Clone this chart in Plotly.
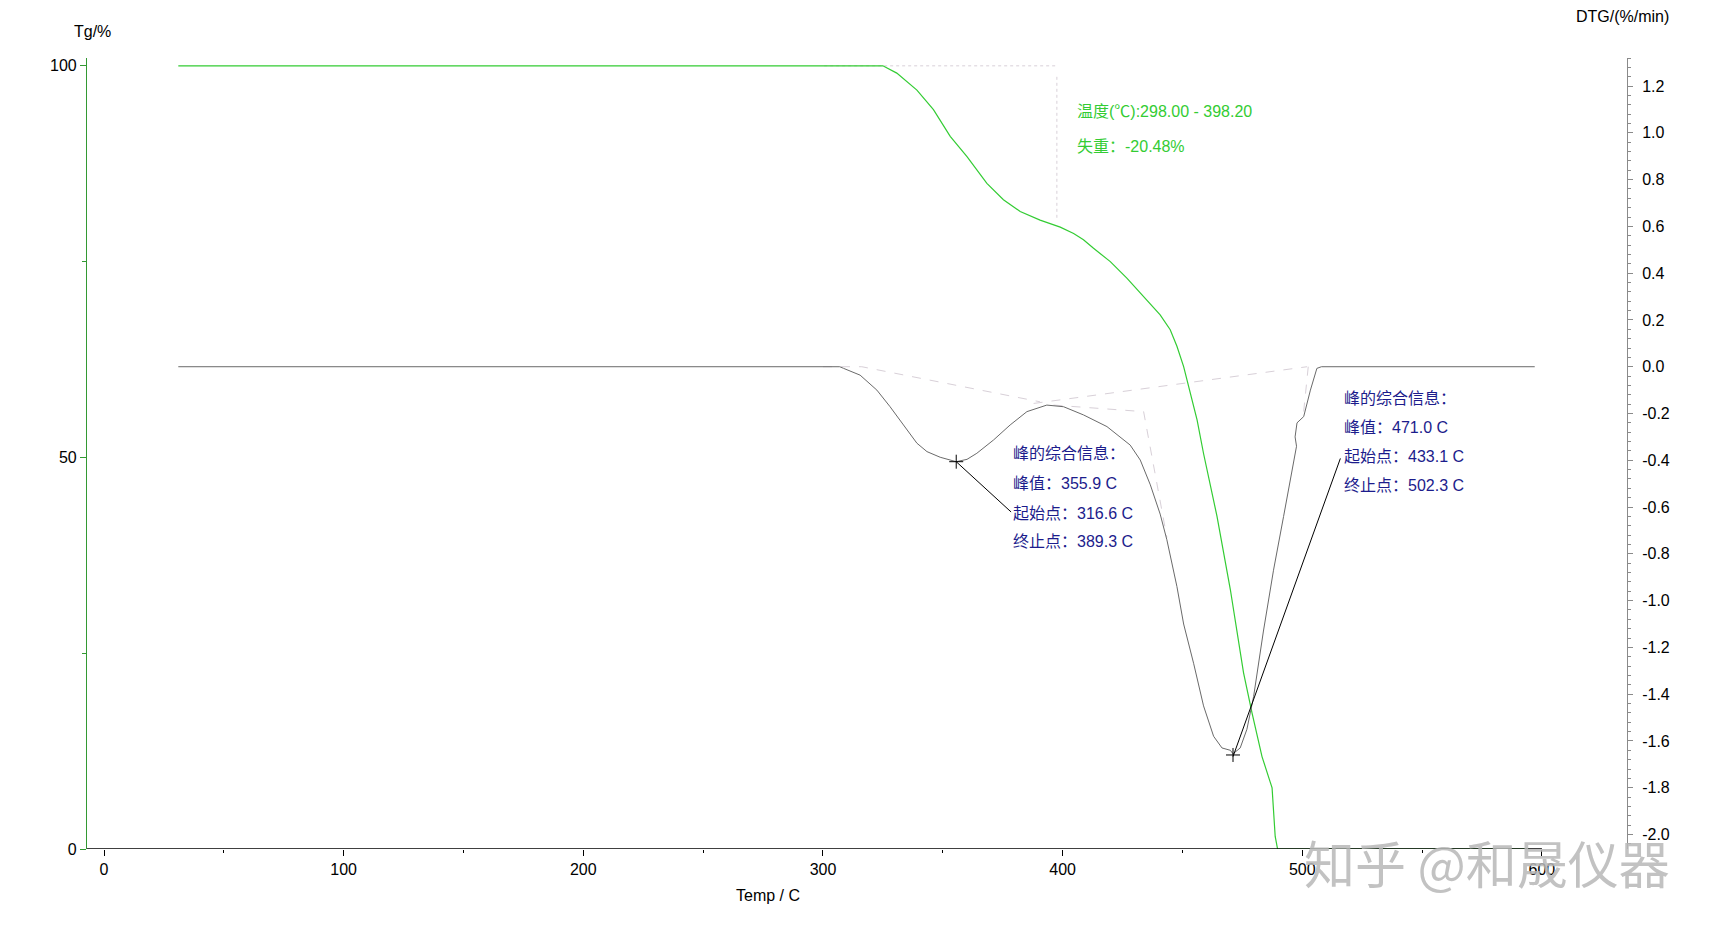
import plotly.graph_objects as go

# ---------------- data ----------------
# TG curve (temperature °C, mass %)
tg_temp = [31, 300, 325, 330.8, 339.2, 346.1, 353.1, 360.1, 368.4, 375.3, 382.3, 390.6, 399,
           404.6, 408.7, 412.9, 419.9, 426.8, 433.8, 440.7, 444.9, 447.7, 450.5, 453.3, 456.1,
           458.8, 464.4, 470, 475.5, 479, 483.2, 487.4, 488.7, 489.7, 492, 594.6]
tg_mass = [100, 100, 100, 99.07, 96.9, 94.4, 91.0, 88.4, 85.0, 82.9, 81.4, 80.3, 79.4,
           78.6, 77.8, 76.7, 75.0, 72.9, 70.5, 68.2, 66.3, 64.2, 61.6, 58.2, 54.8,
           50.5, 42.5, 33.1, 22.5, 17.4, 11.8, 7.8, 1.6, 0.0, 0.0, 0.0]

# DTG curve (temperature °C, %/min)
dtg_temp = [31, 307, 308.6, 315.5, 322.5, 328, 333.6, 339.2, 343.4, 348.9, 355.6, 360.1, 364.2,
            371.2, 378.1, 385.1, 393.4, 400.4, 408.7, 418.5, 428.2, 432.4, 436.6, 440.7, 443.5,
            447.7, 450.5, 454.7, 458.8, 463, 466.5, 470, 471.1, 474.1, 476.9, 479.7, 483.8,
            488, 492.2, 495.7, 497.6, 497.0, 497.8, 500.6, 503.4, 506.1, 508, 597]
dtg_rate = [0, 0, -0.007, -0.036, -0.10, -0.171, -0.249, -0.327, -0.363, -0.387, -0.406, -0.396, -0.37,
            -0.313, -0.249, -0.192, -0.164, -0.171, -0.206, -0.256, -0.335, -0.399, -0.505, -0.63, -0.74,
            -0.94, -1.10, -1.27, -1.45, -1.58, -1.63, -1.64, -1.655, -1.63, -1.55, -1.41, -1.13,
            -0.87, -0.64, -0.44, -0.34, -0.30, -0.24, -0.213, -0.10, -0.007, 0, 0]

# integration baselines (DTG units)
base_a_t = [300, 316.2, 390.6]
base_a_v = [0, 0, -0.15]
base_b_t = [387.9, 502.0]
base_b_v = [-0.157, 0.0]
base_c_t = [396.2, 433.8, 443.5]
base_c_v = [-0.164, -0.192, -0.73]
base_d_t = [502.5, 500.5]
base_d_v = [0.0, -0.2]

# mass-loss bracket (TG units)
step_h_t = [300.5, 397.6]
step_h_v = [100, 100]
step_v_t = [397.6, 397.6]
step_v_v = [98.6, 80.6]

# peak markers and leader lines
peak_t = [355.6, 471.1]
peak_v = [-0.406, -1.66]
leader1_t = [355.6, 378.5]
leader1_v = [-0.406, -0.621]
leader2_t = [471.1, 515.9]
leader2_v = [-1.667, -0.392]

# annotation texts
block1_lines = ["峰的综合信息：", "峰值：355.9 C", "起始点：316.6 C", "终止点：389.3 C"]
block1_x = 378.5
block1_y = [-0.370, -0.4985, -0.627, -0.748]
block2_lines = ["峰的综合信息：", "峰值：471.0 C", "起始点：433.1 C", "终止点：502.3 C"]
block2_x = 516.6
block2_y = [-0.135, -0.259, -0.382, -0.506]
step_lines = ["温度(℃):298.00 - 398.20", "失重：-20.48%"]
step_x = 405.3
step_y = [94.17, 89.7]

x_ticks = [0, 100, 200, 300, 400, 500, 600]
x_minor = [50, 150, 250, 350, 450, 550]
tg_ticks = [0, 50, 100]
tg_minor = [25, 75]
dtg_ticks = [-2.0, -1.8, -1.6, -1.4, -1.2, -1.0, -0.8, -0.6, -0.4, -0.2, 0.0, 0.2, 0.4, 0.6, 0.8, 1.0, 1.2]

# ---------------- figure ----------------
GREEN = "#33cc33"
BLUE = "#1c1c8c"
DASH = "#d8d0d8"
FONT = "Arial, Liberation Sans, Noto Sans CJK SC, sans-serif"

fig = go.Figure()

# baselines / bracket
for bt, bv in [(base_a_t, base_a_v), (base_b_t, base_b_v), (base_c_t, base_c_v), (base_d_t, base_d_v)]:
    fig.add_trace(go.Scatter(x=bt, y=bv, yaxis="y2", mode="lines",
                             line=dict(color=DASH, width=1, dash="dash"), hoverinfo="skip"))
for bt, bv in [(step_h_t, step_h_v), (step_v_t, step_v_v)]:
    fig.add_trace(go.Scatter(x=bt, y=bv, yaxis="y", mode="lines",
                             line=dict(color=DASH, width=1, dash="dot"), hoverinfo="skip"))

# DTG
fig.add_trace(go.Scatter(x=dtg_temp, y=dtg_rate, yaxis="y2", mode="lines",
                         line=dict(color="#6a6a6a", width=1)))
# leaders
fig.add_trace(go.Scatter(x=leader1_t, y=leader1_v, yaxis="y2", mode="lines",
                         line=dict(color="black", width=1)))
fig.add_trace(go.Scatter(x=leader2_t, y=leader2_v, yaxis="y2", mode="lines",
                         line=dict(color="black", width=1)))
fig.add_trace(go.Scatter(x=peak_t, y=peak_v, yaxis="y2", mode="markers",
                         marker=dict(symbol="cross-thin", size=10, line=dict(color="black", width=1))))
# TG
fig.add_trace(go.Scatter(x=tg_temp, y=tg_mass, yaxis="y", mode="lines",
                         line=dict(color=GREEN, width=1.2)))

# x-axis baseline line (stops at 600)
fig.add_shape(type="line", xref="paper", yref="y", x0=0, x1=(600 + 7.1) / (635.5 + 7.1),
              y0=0, y1=0, line=dict(color="black", width=1.5))

ann = []
for txt, yy in zip(block1_lines, block1_y):
    ann.append(dict(x=block1_x, y=yy, xref="x", yref="y2", text=txt, showarrow=False,
                    xanchor="left", yanchor="middle", font=dict(size=16, color=BLUE, family=FONT)))
for txt, yy in zip(block2_lines, block2_y):
    ann.append(dict(x=block2_x, y=yy, xref="x", yref="y2", text=txt, showarrow=False,
                    xanchor="left", yanchor="middle", font=dict(size=16, color=BLUE, family=FONT)))
for txt, yy in zip(step_lines, step_y):
    ann.append(dict(x=step_x, y=yy, xref="x", yref="y", text=txt, showarrow=False,
                    xanchor="left", yanchor="middle", font=dict(size=16, color=GREEN, family=FONT)))

# axis titles
ann.append(dict(x=0.00325, y=1.0329, xref="paper", yref="paper", text="Tg/%", showarrow=False,
                xanchor="center", yanchor="middle", font=dict(size=16, color="black", family=FONT)))
ann.append(dict(x=0.9974, y=1.0522, xref="paper", yref="paper", text="DTG/(%/min)", showarrow=False,
                xanchor="center", yanchor="middle", font=dict(size=16, color="black", family=FONT)))
ann.append(dict(x=0.4422, y=-0.059, xref="paper", yref="paper", text="Temp / C", showarrow=False,
                xanchor="center", yanchor="middle", font=dict(size=16, color="black", family=FONT)))
# watermark
ann.append(dict(x=0.909, y=-0.0165, xref="paper", yref="paper", text="知乎 @和晟仪器", showarrow=False,
                xanchor="center", yanchor="middle", opacity=0.85,
                font=dict(size=51, color="#b8b8b8", family="Noto Sans CJK SC, sans-serif")))

# page body has an 8px margin: shrink the figure so the plot area lands where the reference has it
fig.update_layout(
    width=1704, height=928,
    margin=dict(l=79, r=85, t=50, b=87),
    paper_bgcolor="white", plot_bgcolor="white",
    showlegend=False,
    font=dict(family=FONT, size=16, color="black"),
    annotations=ann,
    xaxis=dict(range=[-7.1, 635.5], showgrid=False, zeroline=False, showline=False,
               tickmode="array", tickvals=x_ticks, ticktext=[str(v) for v in x_ticks],
               ticks="outside", ticklen=6, tickcolor="black", tickwidth=1,
               tickfont=dict(size=16, family=FONT, color="black"),
               minor=dict(tickmode="array", tickvals=x_minor, ticks="outside", ticklen=3,
                          tickcolor="black")),
    yaxis=dict(range=[0, 101], showgrid=False, zeroline=False, showline=True,
               linecolor="#339933", linewidth=1.2,
               tickmode="array", tickvals=tg_ticks, ticktext=[str(v) for v in tg_ticks],
               ticks="outside", ticklen=6, tickcolor="#339933",
               tickfont=dict(size=16, family=FONT, color="black"),
               minor=dict(tickmode="array", tickvals=tg_minor, ticks="outside", ticklen=4,
                          tickcolor="#339933")),
    yaxis2=dict(range=[-2.062, 1.32], overlaying="y", side="right", anchor="x",
                showgrid=False, zeroline=False, showline=True, linecolor="#8a8a8a", linewidth=1,
                tickmode="array", tickvals=dtg_ticks, ticktext=["%.1f" % v for v in dtg_ticks],
                ticks="outside", ticklen=5, tickcolor="#8a8a8a", ticklabelstandoff=6,
                tickfont=dict(size=16, family=FONT, color="black"),
                minor=dict(tickmode="linear", tick0=0, dtick=0.04, ticks="outside", ticklen=3,
                           tickcolor="#8a8a8a")),
)

fig.write_html("out.html")
